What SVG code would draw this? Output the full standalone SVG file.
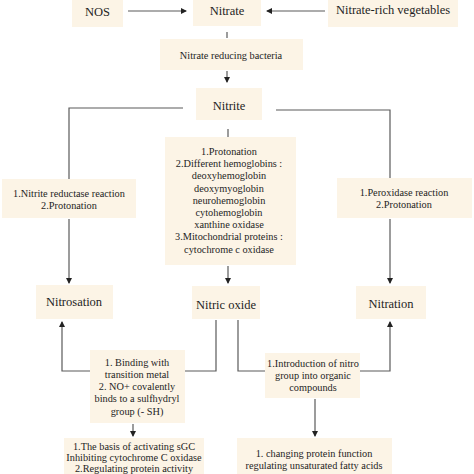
<svg xmlns="http://www.w3.org/2000/svg" width="474" height="474" viewBox="0 0 474 474">
<defs>
<style>
.box{fill:#fcf4e6;}
.t{font-family:'Liberation Serif','DejaVu Serif',serif;fill:#1e1e1e;text-anchor:middle;}
.big{font-size:12.5px;}
.sm{font-size:10.3px;}
.ln{fill:none;stroke:#5a5a5a;stroke-width:1.2;}
</style>
<marker id="ah" markerUnits="userSpaceOnUse" markerWidth="6" markerHeight="7" refX="5" refY="3" orient="auto">
<path d="M0,0 L6,3 L0,6 Z" fill="#222"/>
</marker>
</defs>
<rect width="474" height="474" fill="#fff"/>

<g id="connectors">
<path class="ln" d="M128 11 H186" marker-end="url(#ah)"/>
<path class="ln" d="M325 11 H267" marker-end="url(#ah)"/>
<path class="ln" d="M227 32 V38"/>
<path class="ln" d="M227 71 V82" marker-end="url(#ah)"/>
<path class="ln" d="M183 108 H69 V179"/>
<path class="ln" d="M69 219 V283" marker-end="url(#ah)"/>
<path class="ln" d="M276 110 H390 V178"/>
<path class="ln" d="M390 219 V283" marker-end="url(#ah)"/>
<path class="ln" d="M228 129 V137"/>
<path class="ln" d="M228 266 V283" marker-end="url(#ah)"/>
<path class="ln" d="M216 320 V371 H90"/>
<path class="ln" d="M90 371 H62 V322" marker-end="url(#ah)"/>
<path class="ln" d="M238 320 V371 H265"/>
<path class="ln" d="M360 371 H390 V322" marker-end="url(#ah)"/>
<path class="ln" d="M133 424 V436" marker-end="url(#ah)"/>
<path class="ln" d="M315 399 V436" marker-end="url(#ah)"/>
</g>

<g font-family="Liberation Serif, DejaVu Serif, serif">
<g id="nos">
<rect class="box" x="72" y="0" width="51" height="27"/>
<text class="t big" x="97.5" y="16">NOS</text>
</g>
<g id="nitrate">
<rect class="box" x="193" y="0" width="68" height="26"/>
<text class="t big" x="227" y="15">Nitrate</text>
</g>
<g id="vegetables">
<rect class="box" x="328" y="0" width="130" height="27"/>
<text class="t big" x="393" y="14">Nitrate-rich vegetables</text>
</g>
<g id="bacteria">
<rect class="box" x="160" y="39" width="143" height="31"/>
<text class="t sm" x="231" y="58.5">Nitrate reducing bacteria</text>
</g>
<g id="nitrite">
<rect class="box" x="196" y="88" width="66" height="32"/>
<text class="t big" x="229" y="110">Nitrite</text>
</g>
<g id="reductase">
<rect class="box" x="2" y="179" width="134" height="39"/>
<text class="t sm" x="69" y="196.5">1.Nitrite reductase reaction</text>
<text class="t sm" x="69" y="208.5">2.Protonation</text>
</g>
<g id="peroxidase">
<rect class="box" x="337" y="178" width="135" height="40"/>
<text class="t sm" x="404" y="195.5">1.Peroxidase reaction</text>
<text class="t sm" x="404" y="207.5">2.Protonation</text>
</g>
<g id="protonation">
<rect class="box" x="165" y="137" width="131" height="128"/>
<text class="t sm" x="229" y="155">1.Protonation</text>
<text class="t sm" x="229" y="167.2">2.Different hemoglobins :</text>
<text class="t sm" x="229" y="179.4">deoxyhemoglobin</text>
<text class="t sm" x="229" y="191.6">deoxymyoglobin</text>
<text class="t sm" x="229" y="203.8">neurohemoglobin</text>
<text class="t sm" x="229" y="216">cytohemoglobin</text>
<text class="t sm" x="229" y="228.2">xanthine oxidase</text>
<text class="t sm" x="229" y="240.4">3.Mitochondrial proteins :</text>
<text class="t sm" x="229" y="252.6">cytochrome c oxidase</text>
</g>
<g id="nitrosation">
<rect class="box" x="36" y="285" width="77" height="34"/>
<text class="t big" x="74" y="306">Nitrosation</text>
</g>
<g id="nitric-oxide">
<rect class="box" x="192" y="286" width="68" height="33"/>
<text class="t big" x="226" y="309">Nitric oxide</text>
</g>
<g id="nitration">
<rect class="box" x="356" y="286" width="70" height="33"/>
<text class="t big" x="391" y="308">Nitration</text>
</g>
<g id="binding">
<rect class="box" x="90" y="350" width="95" height="73"/>
<text class="t sm" x="137" y="365.5">1. Binding with</text>
<text class="t sm" x="137" y="377.8">transition metal</text>
<text class="t sm" x="137" y="390.1">2. NO+ covalently</text>
<text class="t sm" x="137" y="402.4">binds to a sulfhydryl</text>
<text class="t sm" x="137" y="414.7">group (- SH)</text>
</g>
<g id="introduction">
<rect class="box" x="265" y="353" width="95" height="45"/>
<text class="t sm" x="313" y="366.5">1.Introduction of nitro</text>
<text class="t sm" x="313" y="378.8">group into organic</text>
<text class="t sm" x="313" y="391.1">compounds</text>
</g>
<g id="sgc">
<rect class="box" x="64" y="438" width="140" height="36"/>
<text class="t sm" x="134" y="449.5">1.The basis of activating sGC</text>
<text class="t sm" x="134" y="460.8">Inhibiting cytochrome C oxidase</text>
<text class="t sm" x="134" y="472">2.Regulating protein activity</text>
</g>
<g id="protein-function">
<rect class="box" x="237" y="438" width="155" height="36"/>
<text class="t sm" x="314" y="456.5">1. changing protein function</text>
<text class="t sm" x="314" y="468.8">regulating unsaturated fatty acids</text>
</g>
</g>
</svg>
